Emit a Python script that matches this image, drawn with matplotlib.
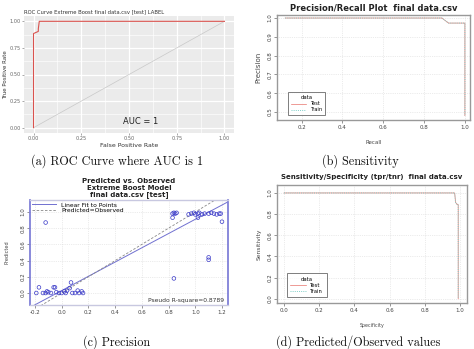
import matplotlib
matplotlib.use("Agg")
import matplotlib.pyplot as plt
import numpy as np
from matplotlib.ticker import MultipleLocator

# ---- data ----
roc_fpr = [0.0, 0.0, 0.012, 0.025, 0.025, 0.03, 1.0]
roc_tpr = [0.0, 0.885, 0.895, 0.905, 0.93, 1.0, 1.0]
auc_text = "AUC = 1"

pr_recall = [0.12, 0.887, 0.92, 1.0, 1.0]
pr_precision = [1.0, 1.0, 0.973, 0.973, 0.48]

obs_low = [-0.19, -0.17, -0.14, -0.12, -0.11, -0.10, -0.08, -0.06, -0.05, -0.04,
           -0.02, 0.00, 0.02, 0.03, 0.04, 0.06, 0.07, 0.08, 0.10, 0.12, 0.13, 0.15, 0.16]
pred_low = [0.00, 0.07, 0.00, 0.00, 0.02, 0.01, 0.00, 0.07, 0.07, 0.01,
            0.00, 0.00, 0.02, 0.00, 0.03, 0.06, 0.13, 0.00, 0.00, 0.03, 0.00, 0.02, 0.00]
obs_high = [0.83, 0.84, 0.85, 0.86, 0.83, 0.95, 0.97, 0.99, 1.00, 1.02, 1.03,
            1.05, 1.07, 1.10, 1.12, 1.14, 1.16, 1.18, 1.19, 1.02, 1.20]
pred_high = [0.98, 0.99, 0.98, 0.99, 0.93, 0.97, 0.98, 0.99, 0.97, 0.98, 0.99,
             0.97, 0.98, 0.98, 0.99, 0.98, 0.97, 0.98, 0.98, 0.93, 0.88]
obs_out = [-0.12, 0.84, 1.10, 1.10]
pred_out = [0.87, 0.18, 0.44, 0.41]
fit_intercept = 0.03
fit_slope = 0.88
pseudo_r2 = 0.8789

spec = [0.0, 0.97, 0.975, 0.985, 0.99, 0.99]
sens = [1.0, 1.0, 0.91, 0.89, 0.89, 0.0]

captions = ["(a) ROC Curve where AUC is 1", "(b) Sensitivity",
            "(c) Precision", "(d) Predicted/Observed values"]
scatter_title = ["Predicted vs. Observed", "Extreme Boost Model", "final data.csv [test]"]

W, H = 474, 349
fig = plt.figure(figsize=(W / 100, H / 100), dpi=100)
fig.patch.set_facecolor("white")


def box(l, t, r, b):
    return [l / W, 1 - b / H, (r - l) / W, (b - t) / H]


tick_fs = 3.6
red = "#e8726b"
cyan = "#7fcfc9"

# ---- (a) ROC curve, ggplot-like ----
axa = fig.add_axes(box(24, 16, 234, 133))
axa.set_facecolor("#ebebeb")
axa.set_xlim(-0.05, 1.05)
axa.set_ylim(-0.05, 1.05)
for s in axa.spines.values():
    s.set_visible(False)
axa.xaxis.set_major_locator(MultipleLocator(0.25))
axa.yaxis.set_major_locator(MultipleLocator(0.25))
axa.xaxis.set_minor_locator(MultipleLocator(0.125))
axa.yaxis.set_minor_locator(MultipleLocator(0.125))
axa.grid(True, which="major", color="white", lw=0.9)
axa.grid(True, which="minor", color="white", lw=0.45)
axa.set_axisbelow(True)
axa.set_xticks([0, 0.25, 0.5, 0.75, 1.0])
axa.set_xticklabels(["0.00", "0.25", "0.50", "0.75", "1.00"])
axa.set_yticks([0, 0.25, 0.5, 0.75, 1.0])
axa.set_yticklabels(["0.00", "0.25", "0.50", "0.75", "1.00"])
axa.tick_params(labelsize=tick_fs, colors="#666666", length=1.5, width=0.4, pad=1)
axa.tick_params(which="minor", length=0)
axa.plot([0, 1], [0, 1], color="#c8c8c8", lw=0.5)
axa.plot(roc_fpr, roc_tpr, color="#d9534f", lw=0.8)
axa.text(0.56, 0.02, auc_text, fontsize=6, color="#222222", ha="center", va="bottom")
axa.set_xlabel("False Positive Rate", fontsize=4.5, color="#333333", labelpad=1)
axa.set_ylabel("True Positive Rate", fontsize=4, color="#333333", labelpad=1)
axa.set_title("ROC Curve Extreme Boost final data.csv [test] LABEL", fontsize=3.8,
              loc="left", color="#333333", pad=2)


def r_style(ax, xlim, ylim, xt, yt, xtl, ytl, spine_color="#999999"):
    ax.set_xlim(*xlim)
    ax.set_ylim(*ylim)
    ax.set_xticks(xt)
    ax.set_xticklabels(xtl)
    ax.set_yticks(yt)
    ax.set_yticklabels(ytl, rotation=90, va="center")
    ax.tick_params(labelsize=tick_fs + 0.4, colors="#444444", length=2, width=0.4, pad=1.5)
    ax.grid(True, color="#d9d9d9", lw=0.5, ls=":")
    ax.set_axisbelow(True)
    for s in ax.spines.values():
        s.set_color(spine_color)
        s.set_linewidth(1.0)


# ---- (b) Precision / Recall ----
axb = fig.add_axes(box(277, 15, 470, 120))
r_style(axb, (0.08, 1.025), (0.457, 1.016),
        [0.2, 0.4, 0.6, 0.8, 1.0], [0.5, 0.6, 0.7, 0.8, 0.9, 1.0],
        ["0.2", "0.4", "0.6", "0.8", "1.0"], ["0.5", "0.6", "0.7", "0.8", "0.9", "1.0"])
axb.plot(pr_recall, pr_precision, color=red, lw=0.5, label="Test")
axb.plot(pr_recall, pr_precision, color=cyan, lw=0.7, ls=(0, (1, 1.2)), label="Train")
axb.set_xlabel("Recall", fontsize=4, color="#444444", labelpad=7)
axb.set_ylabel("Precision", fontsize=5, color="#444444", labelpad=4)
axb.set_title("Precision/Recall Plot  final data.csv", fontsize=6, fontweight="bold",
              color="#222222", pad=3)
lg = axb.legend(title="data", fontsize=3.6, title_fontsize=3.8, loc="lower left",
                bbox_to_anchor=(0.045, 0.02), frameon=True, fancybox=False,
                handlelength=3, borderpad=0.6, labelspacing=0.2)
lg.get_frame().set_edgecolor("#444444")
lg.get_frame().set_linewidth(0.6)

# ---- (c) Predicted vs Observed ----
axc = fig.add_axes(box(30, 200, 228, 305))
r_style(axc, (-0.237, 1.245), (-0.148, 1.148),
        [-0.2, 0.0, 0.2, 0.4, 0.6, 0.8, 1.0, 1.2], [0.0, 0.2, 0.4, 0.6, 0.8, 1.0],
        ["-0.2", "0.0", "0.2", "0.4", "0.6", "0.8", "1.0", "1.2"],
        ["0.0", "0.2", "0.4", "0.6", "0.8", "1.0"])
for side in ("left", "right"):
    axc.spines[side].set_color("#8080d8")
    axc.spines[side].set_linewidth(1.3)
axc.spines["top"].set_color("#c8c8e0")
axc.spines["bottom"].set_color("#c8c8e0")
pt = "#3a3ac8"
axc.scatter(obs_low + obs_high + obs_out, pred_low + pred_high + pred_out,
            s=7, facecolors="none", edgecolors=pt, linewidths=0.5, zorder=3)
xx = np.array([-0.237, 1.245])
axc.plot(xx, fit_intercept + fit_slope * xx, color="#7070d0", lw=0.7,
         label="Linear Fit to Points")
axc.plot(xx, xx, color="#888888", lw=0.6, ls=(0, (3, 2)), label="Predicted=Observed")
axc.text(0.98, 0.02, f"Pseudo R-square={pseudo_r2}", transform=axc.transAxes,
         fontsize=4.3, ha="right", va="bottom", color="#333333")
axc.set_ylabel("Predicted", fontsize=3.6, color="#444444", labelpad=8)
for i, line in enumerate(scatter_title):
    fig.text(129 / W, 1 - (181 + 7 * i) / H, line, fontsize=5.0, fontweight="bold",
             color="#222222", ha="center", va="center")
lc = axc.legend(loc="upper left", fontsize=4.3, frameon=False, handlelength=4,
                borderpad=0.2, labelspacing=0.05, borderaxespad=0.2)

# ---- (d) Sensitivity / Specificity ----
axd = fig.add_axes(box(277, 185, 467, 303))
r_style(axd, (-0.04, 1.04), (-0.04, 1.075),
        [0.0, 0.2, 0.4, 0.6, 0.8, 1.0], [0.0, 0.2, 0.4, 0.6, 0.8, 1.0],
        ["0.0", "0.2", "0.4", "0.6", "0.8", "1.0"],
        ["0.0", "0.2", "0.4", "0.6", "0.8", "1.0"])
axd.plot(spec, sens, color=red, lw=0.5, label="Test")
axd.plot(spec, sens, color=cyan, lw=0.7, ls=(0, (1, 1.2)), label="Train")
axd.set_xlabel("Specificity", fontsize=3.4, color="#444444", labelpad=7)
axd.set_ylabel("Sensitivity", fontsize=4.3, color="#444444", labelpad=4)
axd.set_title("Sensitivity/Specificity (tpr/tnr)  final data.csv", fontsize=5,
              fontweight="bold", color="#222222", pad=4)
ld = axd.legend(title="data", fontsize=3.8, title_fontsize=3.8, loc="lower left",
                bbox_to_anchor=(0.04, 0.03), frameon=True, fancybox=False,
                handlelength=3, borderpad=0.6, labelspacing=0.2)
ld.get_frame().set_edgecolor("#444444")
ld.get_frame().set_linewidth(0.6)

# ---- sub-figure captions ----
cap_font = dict(family=["cmr10", "DejaVu Serif"], fontsize=8.8, color="#111111",
                ha="center", va="center")
fig.text(117 / W, 1 - 161 / H, captions[0], **cap_font)
fig.text(360 / W, 1 - 161 / H, captions[1], **cap_font)
fig.text(117 / W, 1 - 342 / H, captions[2], **cap_font)
fig.text(358 / W, 1 - 342 / H, captions[3], **cap_font)

fig.savefig("out.png", dpi=100)
